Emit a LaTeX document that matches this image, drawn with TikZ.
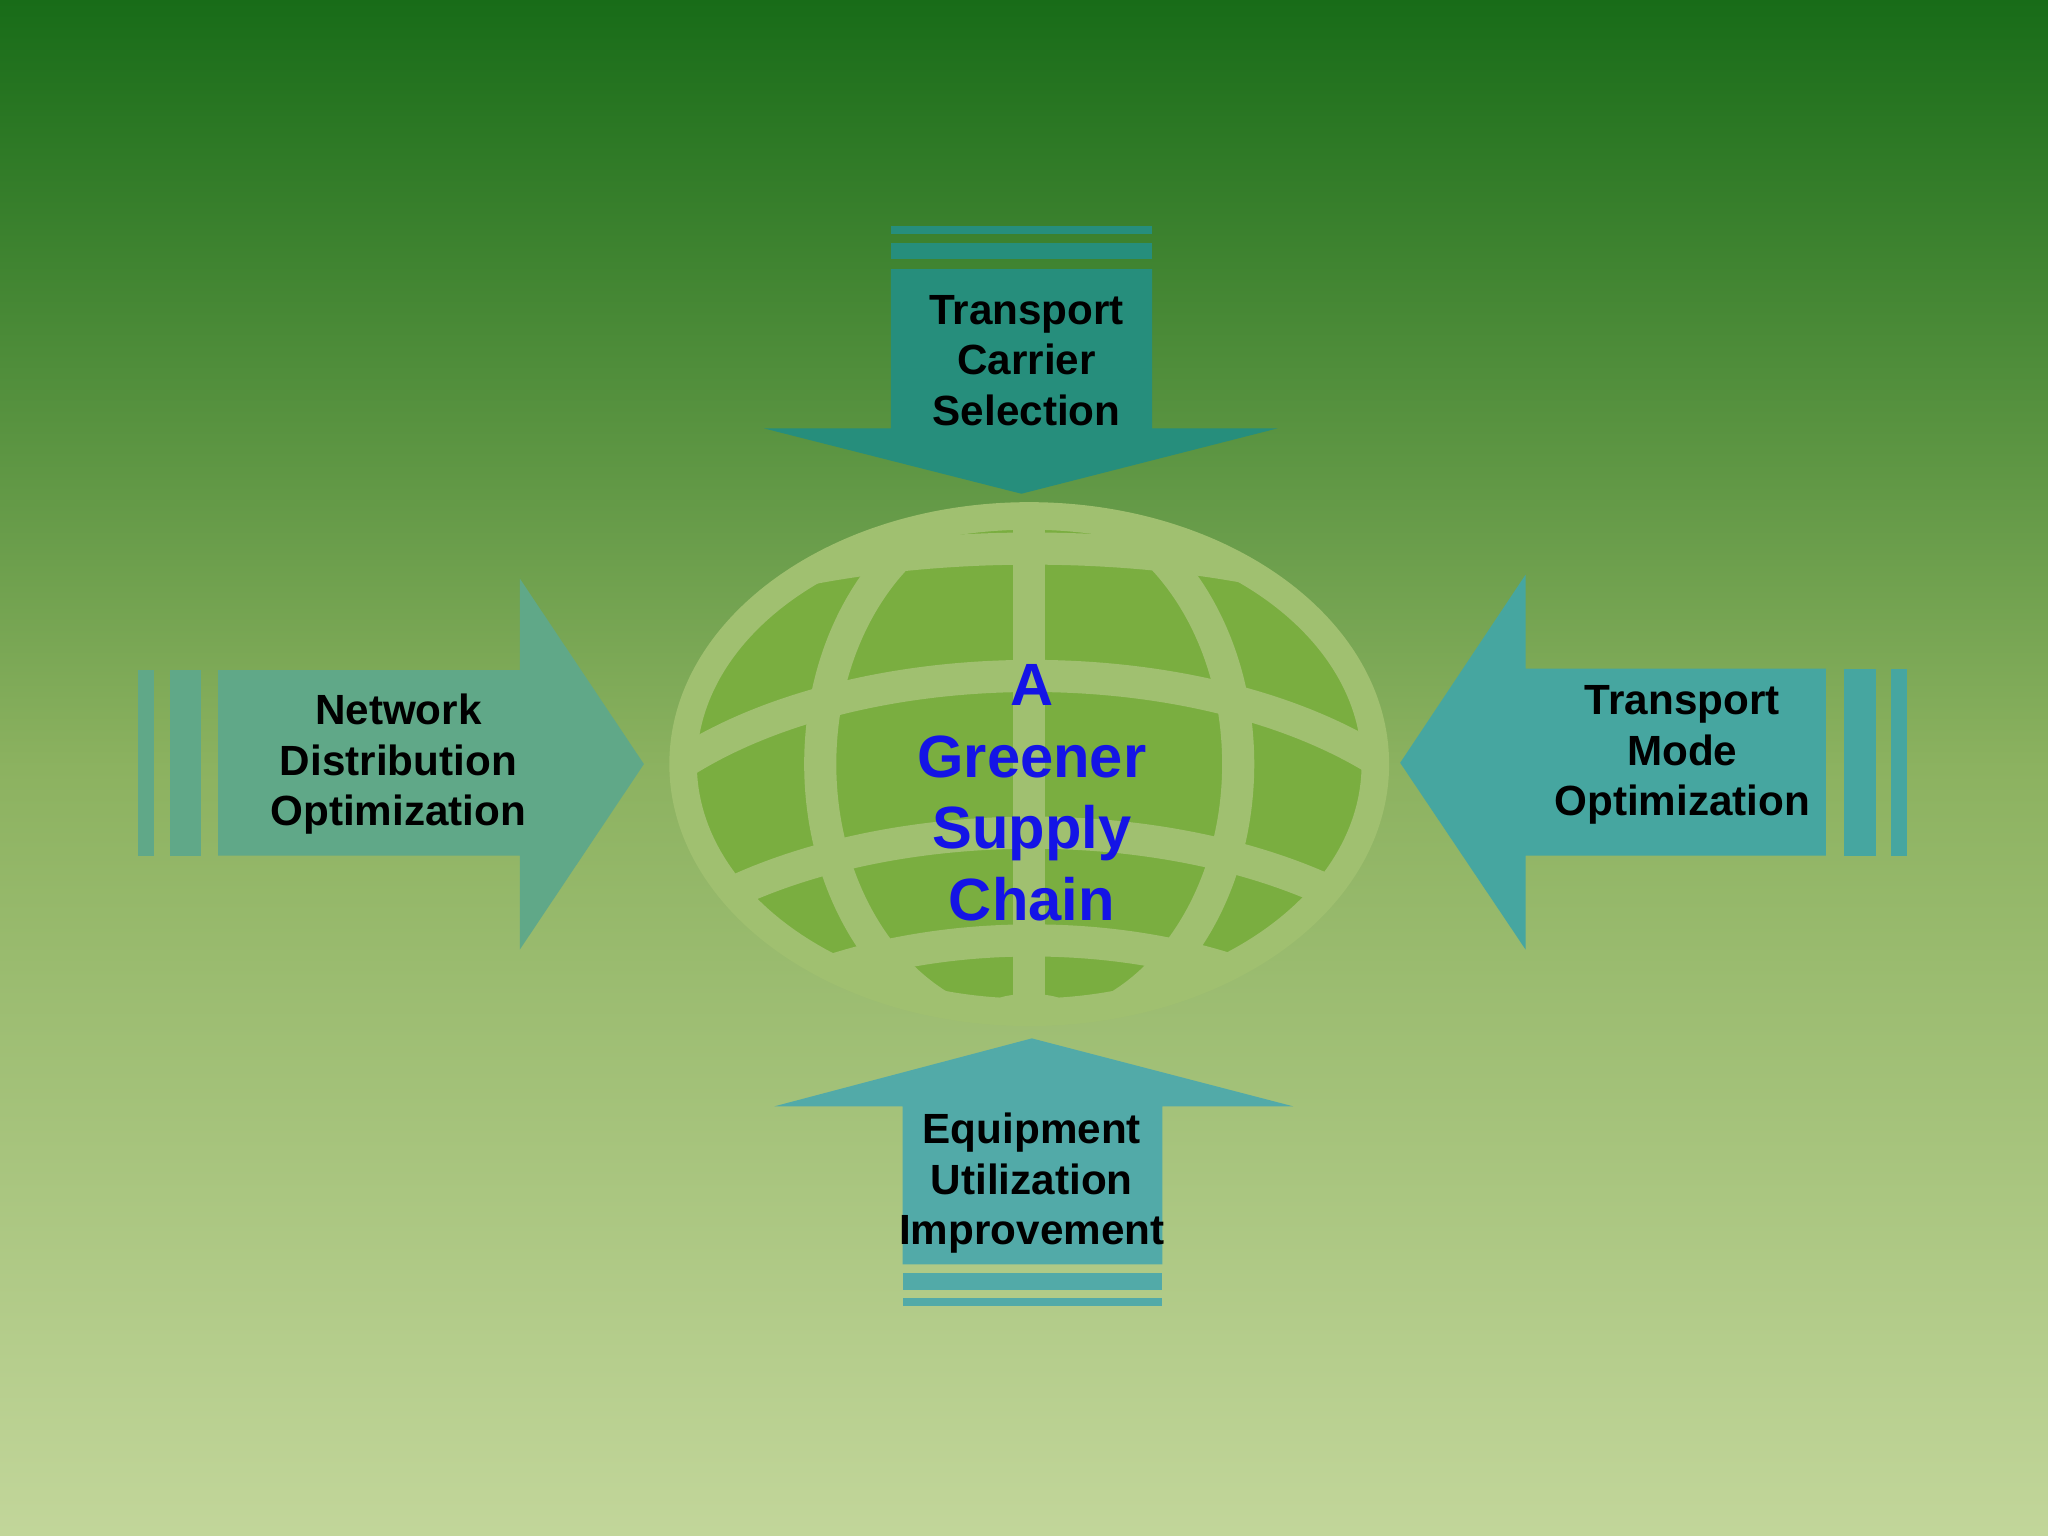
\documentclass[tikz,border=0pt]{standalone}
\usepackage{fontspec}
\setmainfont{Liberation Sans}
\definecolor{bgtop}{RGB}{24,108,24}
\definecolor{bgmid}{RGB}{140,178,96}
\definecolor{bgbot}{RGB}{194,214,154}
\definecolor{gl}{RGB}{122,174,64}
\definecolor{gridc}{RGB}{160,192,112}
\definecolor{ta}{RGB}{38,142,124}
\definecolor{la}{RGB}{96,168,136}
\definecolor{ra}{RGB}{70,166,160}
\definecolor{ba}{RGB}{82,170,168}
\definecolor{ctrblue}{RGB}{20,20,230}
\begin{document}
\begin{tikzpicture}[x=0.1mm,y=-0.1mm,
  lbl/.style={font=\fontsize{9.2}{11}\selectfont\bfseries,align=center,text=black},
  ctr/.style={font=\fontsize{13}{15.6}\selectfont\bfseries,align=center,text=ctrblue},
  grid/.style={draw=gridc,line width=7pt}]
\useasboundingbox (0,0) rectangle (1568,1176);
\shade[top color=bgtop,bottom color=bgbot,middle color=bgmid] (0,0) rectangle (1568,1176);
% globe
\begin{scope}
\clip (788,585) ellipse (270 and 193);
\fill[gl] (788,585) ellipse (270 and 193);
\draw[grid] (788,380) -- (788,790);
\draw[grid] (788,585) ellipse (160 and 205);
\draw[grid] (480,480) .. controls (640,400) and (940,400) .. (1100,480);
\draw[grid] (500,600) .. controls (640,490) and (940,490) .. (1080,600);
\draw[grid] (500,720) .. controls (640,610) and (940,610) .. (1080,720);
\draw[grid] (520,810) .. controls (640,690) and (940,690) .. (1060,810);
\end{scope}
\draw[draw=gridc,line width=6pt] (788,585) ellipse (265 and 190);
\fill[gridc] (788,768) ellipse (28 and 7);
% top arrow
\fill[ta] (682,173) rectangle (882,179);
\fill[ta] (682,186) rectangle (882,198);
\fill[ta] (682,206) -- (882,206) -- (882,328) -- (978,328) -- (782,378) -- (585,328) -- (682,328) -- cycle;
\node[lbl] (top) at (786,276) {Transport\\Carrier\\Selection};
% left arrow
\fill[la] (106,513) rectangle (118,655);
\fill[la] (130,513) rectangle (154,655);
\fill[la] (167,513) -- (398,513) -- (398,443) -- (493,585) -- (398,727) -- (398,655) -- (167,655) -- cycle;
\node[lbl] (left) at (305,585) {Network\\Distribution\\Optimization};
% right arrow
\fill[ra] (1412,512) rectangle (1436,655);
\fill[ra] (1448,512) rectangle (1460,655);
\fill[ra] (1398,512) -- (1168,512) -- (1168,440) -- (1072,584) -- (1168,727) -- (1168,655) -- (1398,655) -- cycle;
\node[lbl] (right) at (1288,578) {Transport\\Mode\\Optimization};
% bottom arrow
\fill[ba] (691,975) rectangle (890,988);
\fill[ba] (691,994) rectangle (890,1000);
\fill[ba] (691,968) -- (691,847) -- (593,847) -- (790,795) -- (990,847) -- (890,847) -- (890,968) -- cycle;
\node[lbl] (bottom) at (790,906) {Equipment\\Utilization\\Improvement};
% center
\node[ctr] (center) at (790,607) {A\\Greener\\Supply\\Chain};
\end{tikzpicture}
\end{document}
